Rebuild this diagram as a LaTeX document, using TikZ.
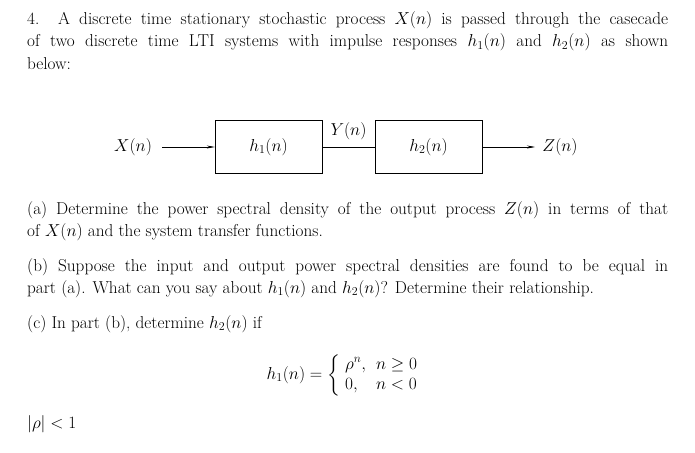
\documentclass[tikz,border=0pt]{standalone}
\usepackage{amsmath,amssymb}
\usetikzlibrary{arrows.meta}
\begin{document}
\begin{tikzpicture}[x=1pt,y=-1pt,
  para/.style={anchor=base west,inner sep=0pt,text width=641pt,align=justify,font=\fontsize{17.2}{22}\selectfont},
  blk/.style={draw,minimum width=107pt,minimum height=53pt,inner sep=0pt,font=\fontsize{17.2}{20}\selectfont},
  lbl/.style={inner sep=0pt,font=\fontsize{17.2}{20}\selectfont},
  arr/.style={-{Stealth[length=8pt,width=3pt]},line width=0.5pt}]
\useasboundingbox (0,0) rectangle (695,452);
\node[para] (p1) at (27,25) {4. A discrete time stationary stochastic process $X(n)$ is passed through the casecade\linebreak of two discrete time LTI systems with impulse responses $h_1(n)$ and $h_2(n)$ as shown\linebreak below:};
\node[blk] (h1) at (268.5,147) {$h_1(n)$};
\node[blk] (h2) at (428.5,147) {$h_2(n)$};
\node[lbl] (x) at (133,147) {$X(n)$};
\node[lbl] (z) at (560,147) {$Z(n)$};
\node[lbl] (y) at (348.5,131) {$Y(n)$};
\coordinate (xs) at (162,147);
\coordinate (ze) at (535,147);
\draw[arr] (xs) -- (h1.west);
\draw[line width=0.5pt] (h1.east) -- (h2.west);
\draw[arr] (h2.east) -- (ze);
\node[para] (pa) at (27,214) {(a) Determine the power spectral density of the output process $Z(n)$ in terms of that\linebreak of $X(n)$ and the system transfer functions.};
\node[para] (pb) at (27,271) {(b) Suppose the input and output power spectral densities are found to be equal in\linebreak part (a). What can you say about $h_1(n)$ and $h_2(n)$? Determine their relationship.};
\node[para] (pc) at (27,328) {(c) In part (b), determine $h_2(n)$ if};
\node[lbl] (eq) at (345,375) {$h_1(n)=\left\{\begin{array}{ll}\rho^n, & n\geq 0\\ 0, & n<0\end{array}\right.$};
\node[lbl,anchor=base west] (rho) at (27,428) {$|\rho|<1$};
\end{tikzpicture}
\end{document}
